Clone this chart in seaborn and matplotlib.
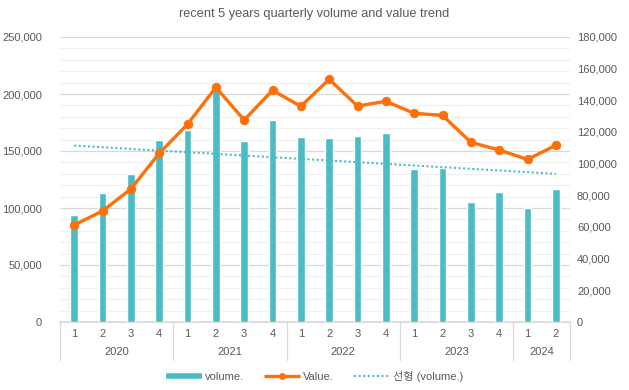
import numpy as np
import pandas as pd
import matplotlib
matplotlib.use("Agg")
import matplotlib.pyplot as plt
import seaborn as sns
from matplotlib.lines import Line2D
from matplotlib.ticker import FuncFormatter, MultipleLocator
import matplotlib.transforms as mtransforms

years = ["2020", "2021", "2022", "2023", "2024"]
quarters_per_year = [4, 4, 4, 4, 2]
quarter_labels = ["1", "2", "3", "4", "1", "2", "3", "4", "1", "2", "3", "4",
                  "1", "2", "3", "4", "1", "2"]
volume = [94000, 113200, 130000, 159600, 168400, 203500, 158800, 177200,
          162300, 161400, 163200, 165800, 134200, 135100, 105300, 114000,
          100000, 116700]
value = [61300, 70100, 84000, 106500, 124900, 148200, 127600, 146300,
         136200, 153300, 136400, 139400, 131800, 130500, 113500, 108600,
         102700, 111600]

title = "recent 5 years quarterly volume and value trend"
legend_labels = ["volume.", "Value.", "선형 (volume.)"]

BAR = "#4BBCC6"
ORANGE = "#FF7008"
TEXT = "#595959"

sns.set_theme(style="white")
plt.rcParams["font.family"] = ["Liberation Sans", "Noto Sans CJK KR", "DejaVu Sans"]

keys = []
for y, n in zip(years, quarters_per_year):
    for q in range(n):
        keys.append(f"{y}-{q+1}")
df = pd.DataFrame({"key": keys, "volume": volume, "value": value,
                   "pos": np.arange(len(keys))})

fig = plt.figure(figsize=(6.29, 3.90), dpi=100)
ax = fig.add_axes([60/629, 1-322/390, 510/629, 285/390])

sns.barplot(data=df, x="key", y="volume", order=keys, color=BAR, saturation=1,
            width=0.26, ax=ax, zorder=3)
ax.set_xlim(-0.5, len(keys) - 0.5)
ax.set_ylim(0, 250000)
ax.yaxis.set_major_locator(MultipleLocator(50000))
ax.yaxis.set_minor_locator(MultipleLocator(10000))
ax.yaxis.set_major_formatter(FuncFormatter(lambda v, p: f"{int(v):,}"))
ax.grid(axis="y", which="major", color="#D9D9D9", lw=0.9, zorder=0)
ax.grid(axis="y", which="minor", color="#F0F0F0", lw=0.9, zorder=0)
ax.set_axisbelow(True)

xs = df["pos"].to_numpy()
coef = np.polyfit(xs, df["volume"].to_numpy(), 1)
ax.plot(xs, np.polyval(coef, xs), color=BAR, lw=1.5, ls=(0, (1, 1.2)), zorder=4)

ax2 = ax.twinx()
sns.lineplot(data=df, x="pos", y="value", color=ORANGE, lw=2.4, marker="o",
             markersize=6, markeredgecolor=ORANGE, ax=ax2, zorder=5)
ax2.set_ylim(0, 180000)
ax2.yaxis.set_major_locator(MultipleLocator(20000))
ax2.yaxis.set_major_formatter(FuncFormatter(lambda v, p: f"{int(v):,}"))
ax2.set_xlim(-0.5, len(keys) - 0.5)

for a in (ax, ax2):
    a.set_xlabel("")
    a.set_ylabel("")
    for s in a.spines.values():
        s.set_visible(False)
    a.tick_params(axis="both", which="both", length=0, colors=TEXT, labelsize=8)
ax.spines["bottom"].set_visible(True)
ax.spines["bottom"].set_color("#D9D9D9")
ax.tick_params(axis="y", pad=13)
ax2.tick_params(axis="y", pad=5)

ax.set_xticks(np.arange(len(keys)))
ax.set_xticklabels(quarter_labels)
ax.tick_params(axis="x", pad=5)

trans = mtransforms.blended_transform_factory(ax.transData, ax.transAxes)
sep_bottom = -38/285
start = -0.5
bounds = [start]
for y, n in zip(years, quarters_per_year):
    end = start + n
    ax.text((start + end) / 2, -30/285, y, transform=trans, ha="center", va="center",
            fontsize=8, color=TEXT)
    bounds.append(end)
    start = end
for b in bounds:
    ax.add_line(Line2D([b, b], [0, sep_bottom], transform=trans, color="#D9D9D9",
                       lw=0.9, clip_on=False))

fig.text(0.5, 1-14/390, title, ha="center", va="center", fontsize=9.2, color=TEXT)

handles = [Line2D([0], [0], color=BAR, lw=4, solid_capstyle="butt"),
           Line2D([0], [0], color=ORANGE, lw=2.4, marker="o", markersize=4,
                  solid_capstyle="butt"),
           Line2D([0], [0], color=BAR, lw=1.5, ls=(0, (1, 1.2)))]
fig.legend(handles, legend_labels, loc="center", bbox_to_anchor=(0.5, 1-376/390),
           ncol=3, frameon=False, fontsize=8, labelcolor=TEXT, handlelength=3.2,
           columnspacing=1.8, handletextpad=0.3)

fig.savefig("out.png", dpi=100)
